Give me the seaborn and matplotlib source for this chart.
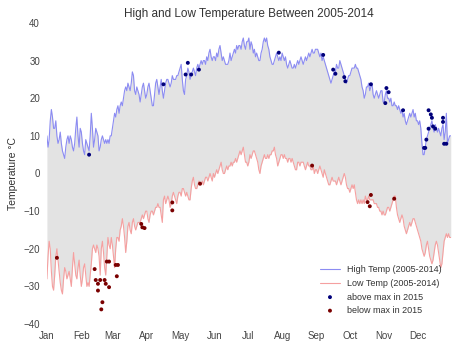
import numpy as np
import pandas as pd
import matplotlib
matplotlib.use("Agg")
import matplotlib.pyplot as plt
import seaborn as sns

# daily record highs / lows 2005-2014 (one value per day)
high = [10, 7, 9, 14, 17, 15, 12, 12, 14, 10, 8, 9, 11, 8, 6, 5, 4, 7, 9, 10, 8, 10, 9, 7, 6, 8, 12, 15, 10, 7, 12,
        11, 8, 6, 5, 9, 8, 7, 6, 10, 16, 12, 7, 9, 12, 11, 10, 6, 7, 9, 10, 9, 8, 9, 8, 9, 8, 10, 10,
        12, 14, 16, 15, 17, 18, 16, 18, 19, 18, 20, 22, 23, 22, 24, 23, 22, 24, 27, 26, 22, 21, 23, 22, 21, 19, 21, 23, 24, 22, 20,
        21, 23, 24, 22, 20, 18, 18, 21, 24, 25, 23, 21, 23, 25, 22, 20, 22, 24, 25, 25, 24, 23, 24, 26, 25, 25, 25, 26, 26, 27,
        28, 29, 25, 22, 21, 25, 26, 28, 27, 25, 26, 27, 28, 27, 26, 28, 29, 28, 29, 30, 29, 30, 30, 29, 31, 30, 32, 33, 31, 30, 31,
        31, 30, 32, 31, 33, 34, 32, 30, 31, 30, 29, 29, 29, 30, 32, 30, 31, 32, 33, 32, 34, 33, 34, 34, 33, 35, 36, 34, 33, 35,
        35, 36, 33, 35, 34, 32, 33, 31, 32, 31, 30, 30, 32, 33, 35, 36, 35, 36, 34, 33, 31, 30, 29, 29, 30, 31, 32, 31, 30, 31, 30,
        32, 31, 30, 31, 29, 28, 29, 30, 29, 28, 28, 29, 28, 29, 30, 29, 30, 31, 30, 29, 30, 31, 30, 31, 32, 31, 32, 33, 32, 32, 33,
        33, 33, 32, 31, 32, 30, 31, 30, 29, 28, 27, 26, 25, 24, 25, 26, 27, 27, 29, 28, 28, 30, 29, 28, 27, 26, 25, 24, 25, 26,
        26, 27, 28, 28, 28, 29, 28, 28, 27, 26, 25, 23, 22, 20, 21, 23, 23, 24, 22, 23, 24, 21, 20, 21, 22, 21, 20, 21, 22, 22, 19,
        19, 21, 22, 20, 20, 19, 20, 18, 18, 19, 18, 18, 17, 18, 17, 16, 17, 15, 16, 14, 13, 14, 15, 16, 15, 16, 17, 15, 16, 14,
        14, 13, 14, 12, 8, 5, 5, 7, 9, 10, 11, 12, 13, 14, 12, 11, 13, 12, 11, 12, 11, 10, 12, 13, 9, 11, 16, 8, 9, 10, 10]

low = [-28, -22, -18, -20, -26, -30, -31, -27, -22, -20, -23, -26, -29, -31, -32, -28, -25, -26, -28, -27, -26, -28, -30, -25, -21, -24, -27, -28, -25, -23, -27,
       -30, -28, -25, -24, -27, -30, -29, -30, -27, -24, -20, -19, -20, -21, -19, -20, -22, -27, -20, -18, -21, -25, -27, -22, -17, -19, -20, -17,
       -19, -22, -25, -20, -17, -17, -18, -15, -14, -12, -14, -17, -21, -18, -14, -13, -15, -16, -13, -12, -14, -15, -14, -13, -13, -13, -12, -11, -12, -11, -10,
       -10, -12, -13, -11, -10, -10, -11, -10, -9, -9, -8, -9, -9, -11, -13, -7, -6, -8, -7, -6, -7, -9, -8, -6, -5, -6, -7, -8, -6, -5,
       -5, -6, -4, -4, -5, -6, -5, -6, -7, -7, -4, -2, -1, -3, -4, -4, -3, -2, -3, -3, -2, -3, -2, -1, -1, -2, -1, 0, -1, -2, 0,
       -1, 0, 1, 0, 1, 2, 3, 1, 0, 0, 1, 2, 1, 2, 2, 3, 2, 3, 3, 4, 3, 4, 5, 6, 5, 6, 7, 5, 3, 3,
       2, 3, 5, 4, 5, 6, 6, 5, 4, 3, 1, 0, 2, 3, 4, 5, 4, 4, 5, 4, 5, 5, 6, 6, 7, 5, 4, 2, 3, 4, 5,
       5, 4, 5, 4, 4, 3, 4, 4, 3, 4, 3, 2, 1, 1, 3, 3, 2, 3, 3, 3, 2, 1, 2, 3, 2, 2, 1, 1, 2, 0, 1,
       1, 0, 1, 2, 1, 0, -1, 1, 0, -1, -2, -3, -3, -2, -1, -2, -2, -2, -3, -2, -1, -2, -3, -2, -1, 0, -1, -3, -4, -4,
       -5, -4, -3, -4, -3, -5, -7, -8, -7, -8, -7, -8, -7, -8, -6, -7, -7, -6, -7, -7, -7, -7, -8, -8, -8, -9, -9, -10, -10, -11, -10,
       -11, -11, -10, -9, -9, -10, -9, -8, -7, -6, -6, -9, -11, -12, -13, -12, -11, -12, -14, -15, -16, -15, -14, -13, -14, -13, -12, -12, -13, -14,
       -15, -16, -17, -18, -20, -21, -22, -21, -19, -18, -20, -22, -23, -24, -23, -21, -19, -18, -19, -21, -23, -25, -24, -21, -18, -17, -16, -17, -16, -17, -17]

# 2015 days that broke the records
above_day = [38, 105, 125, 127, 130, 137, 209, 249, 258, 260, 268, 269, 292, 305, 306, 308, 321,
             340, 341, 342, 344, 344, 346, 347, 348, 350, 357, 357, 358, 360]
above_temp = [5, 23.7, 26.3, 29.4, 26.3, 27.6, 32.1, 31.5, 27.6, 26.5, 25.6, 24.5, 23.7, 18.7, 22.7, 21.6, 16.8,
              6.8, 6.8, 9, 11.9, 16.8, 15.7, 14.8, 12.5, 11.9, 14.8, 13.7, 7.9, 7.9]
below_day = [9, 43, 44, 46, 46, 48, 49, 50, 52, 53, 54, 56, 56, 62, 63, 64,
             85, 86, 88, 113, 113, 138, 239, 289, 291, 292, 313]
below_temp = [-22.4, -25.4, -28.3, -29.3, -31.1, -28.3, -36.1, -34.2, -28.3, -29.3, -23.4, -23.4, -30.2, -24.3, -27.3, -24.3,
              -13.4, -14.3, -14.5, -7.7, -9.8, -2.7, 2.1, -7.6, -8.7, -5.7, -6.7]

month_start = [0, 31, 59, 90, 120, 151, 181, 212, 243, 273, 304, 334]
month_names = ['Jan', 'Feb', 'Mar', 'Apr', 'May', 'Jun', 'Jul', 'Aug', 'Sep', 'Oct', 'Nov', 'Dec']

assert len(high) == 365 and len(low) == 365

df = pd.DataFrame({'day': np.arange(len(high)), 'high': high, 'low': low})

sns.set_style("white")
plt.rcParams['font.family'] = ['Liberation Sans', 'DejaVu Sans']

fig = plt.figure(figsize=(4.74, 3.53), dpi=100)
ax = fig.add_axes([0.099, 0.082, 0.852, 0.853])

ax.fill_between(df['day'], df['low'], df['high'], color='#e3e3e3', lw=0)
sns.lineplot(data=df, x='day', y='high', ax=ax, color='#8c8cf2', lw=0.8, label='High Temp (2005-2014)')
sns.lineplot(data=df, x='day', y='low', ax=ax, color='#f5a0a0', lw=0.8, label='Low Temp (2005-2014)')
sns.scatterplot(x=above_day, y=above_temp, ax=ax, color='#00007a', s=8, edgecolor='none',
                label='above max in 2015', zorder=3)
sns.scatterplot(x=below_day, y=below_temp, ax=ax, color='#7a0000', s=8, edgecolor='none',
                label='below max in 2015', zorder=3)

ax.set_xlim(0, 364)
ax.set_ylim(-40, 40)
ax.set_xticks(month_start)
ax.set_xticklabels(month_names)
ax.set_yticks(range(-40, 41, 10))
ax.tick_params(labelsize=7, colors='#444444', length=0, pad=5)
ax.set_xlabel('')
ax.set_ylabel('Temperature °C', fontsize=7.5, color='#333333', labelpad=4)
ax.set_title('High and Low Temperature Between 2005-2014', fontsize=8.5, color='#333333', pad=4)
sns.despine(ax=ax, left=True, bottom=True)

leg = ax.legend(loc='lower right', frameon=False, fontsize=6.5, handlelength=2.2,
                borderaxespad=0.6, labelspacing=0.5)
for t in leg.get_texts():
    t.set_color('#333333')

fig.savefig('out.png', dpi=100)
